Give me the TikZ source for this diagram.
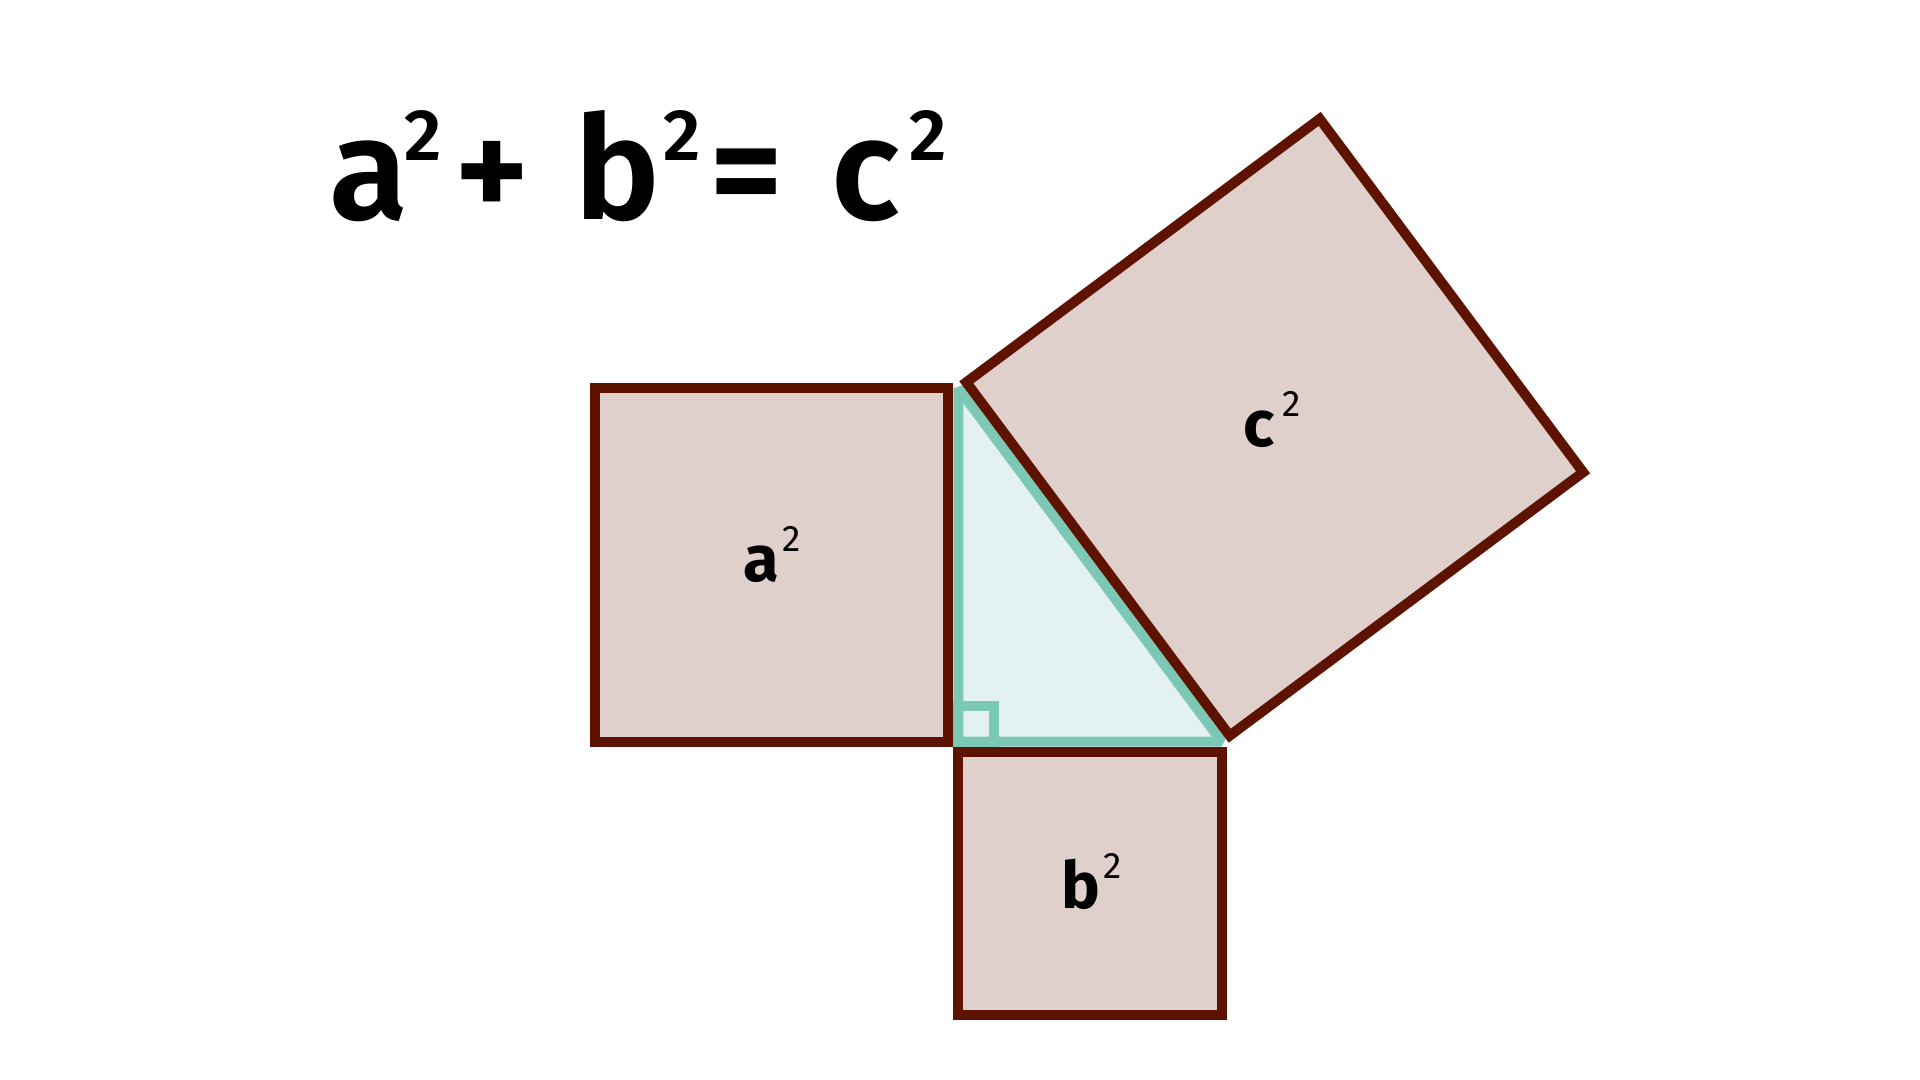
\documentclass[tikz,border=0pt]{standalone}
\usepackage{fontspec}
\setmainfont{Fira Sans}
\newfontfamily\eqfont{Fira Sans SemiBold}
\definecolor{sqedge}{RGB}{94,18,0}
\definecolor{sqfill}{RGB}{224,208,203}
\definecolor{triedge}{RGB}{123,200,181}
\definecolor{trifill}{RGB}{227,241,240}
\newcommand{\eqsq}{\raisebox{0.59cm}{\fontsize{20.7}{22}\selectfont 2}}
\newcommand{\lblsq}[1]{\kern#1\raisebox{0.3cm}{\fontsize{10.5}{12}\selectfont\mdseries 2}}

\begin{document}
\begin{tikzpicture}[square/.style={draw=sqedge,fill=sqfill,line width=0.1cm},
  sqlabel/.style={font=\fontsize{18.5}{22}\selectfont\bfseries,inner sep=0pt,anchor=base}]
\useasboundingbox (0,0) rectangle (19.2,10.8);

\coordinate (C) at (9.583,3.383);
\coordinate (A) at (9.583,6.917);
\coordinate (B) at (12.217,3.383);

\filldraw[fill=trifill,draw=triedge,line width=0.1cm,line join=bevel] (C) -- (A) -- (B) -- cycle;
\draw[triedge,line width=0.1cm] (C) rectangle ++(0.357,0.357);

\draw[square] (5.95,3.383) rectangle (9.483,6.917);
\draw[square] (9.583,3.283) rectangle (12.217,0.649);
\draw[square] (9.663,6.977) -- (12.297,3.443) -- (15.831,6.077) -- (13.197,9.611) -- cycle;

\node[sqlabel] (lbla) at (7.72,4.98) {a\lblsq{0.04cm}};
\node[sqlabel] (lblb) at (10.915,1.71) {b\lblsq{0.03cm}};
\node[sqlabel] (lblc) at (12.72,6.33) {c\lblsq{0.08cm}};

\node[inner sep=0pt,anchor=base west,font=\fontsize{41}{45}\eqfont] (eq) at (3.29,8.60)
  {a\kern-0.037cm\eqsq\kern0.124cm+\kern0.45cm b\kern0.025cm\eqsq\kern0.087cm=\kern0.485cm c\kern0.085cm\eqsq};
\end{tikzpicture}
\end{document}
